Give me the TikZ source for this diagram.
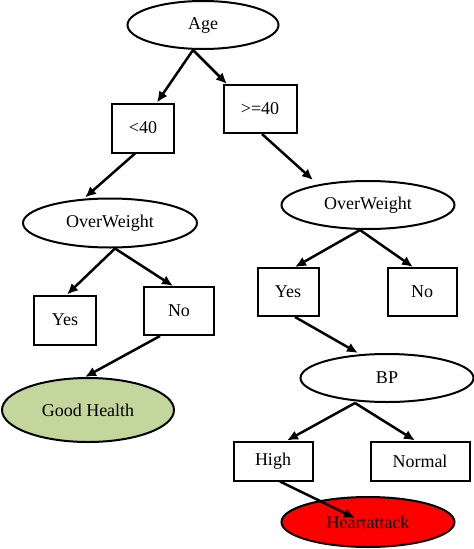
\documentclass[tikz,border=0pt]{standalone}
\usepackage{fontspec}
\setmainfont{Liberation Serif}
\usepackage{tikz}
\usetikzlibrary{arrows,arrows.meta,positioning,calc,shapes.geometric}
\definecolor{goodgreen}{RGB}{195,214,155}
\tikzstyle{attr}=[draw,ellipse,fill=white,line width=2pt,inner sep=0pt,font=\fontsize{18}{21}\selectfont]
\tikzstyle{val}=[draw,rectangle,fill=white,line width=2pt,inner sep=0pt,font=\fontsize{18}{21}\selectfont]
\tikzstyle{link}=[line width=2.5pt,-{Latex[length=11pt,width=10pt]}]
\begin{document}
\begin{tikzpicture}[x=1pt,y=-1pt]
\useasboundingbox (0,0) rectangle (474,549);
\node [attr,minimum width=151pt,minimum height=48pt] (age) at (203,25) {Age};
\node [val,minimum width=62pt,minimum height=49pt] (lt40) at (143,128) {<40};
\node [val,minimum width=73pt,minimum height=48pt] (ge40) at (260,109) {>=40};
\node [attr,minimum width=174pt,minimum height=49pt] (owL) at (110,223) {OverWeight};
\node [attr,minimum width=173pt,minimum height=48pt] (owR) at (368,205) {OverWeight};
\node [val,minimum width=62pt,minimum height=49pt] (yesL) at (65,320) {Yes};
\node [val,minimum width=70pt,minimum height=48pt] (noL) at (179,311) {No};
\node [val,minimum width=61pt,minimum height=48pt] (yesR) at (288,292) {Yes};
\node [val,minimum width=69pt,minimum height=48pt] (noR) at (422,292) {No};
\node [attr,fill=goodgreen,minimum width=172pt,minimum height=64pt] (good) at (88,410) {Good Health};
\node [attr,minimum width=173pt,minimum height=48pt] (bp) at (387,378) {BP};
\node [val,minimum width=79pt,minimum height=39pt] (high) at (273,461) {High};
\node [val,minimum width=99pt,minimum height=39pt] (normal) at (420,461) {Normal};
\node [attr,fill=red,minimum width=173pt,minimum height=50pt] (heart) at (368,522) {Heartattack};
% age split
\draw [link] ([xshift=-10pt]age.south) -- ([xshift=14pt]lt40.north);
\draw [link] ([xshift=-10pt]age.south) -- ([xshift=-33pt]ge40.north);
\draw [link] ([xshift=-8pt]lt40.south) -- ([xshift=-25pt]owL.north);
\draw [link] ([xshift=2pt]ge40.south) -- ([xshift=-55pt]owR.north);
% overweight
\draw [link] ([xshift=5pt]owL.south) -- ([xshift=2pt]yesL.north);
\draw [link] ([xshift=5pt]owL.south) -- ([xshift=-6pt]noL.north);
\draw [link] ([xshift=-8pt]owR.south) -- ([xshift=7pt]yesR.north);
\draw [link] ([xshift=-8pt]owR.south) -- ([xshift=-9pt]noR.north);
\draw [link] ([xshift=-19pt]noL.south) -- ([xshift=-3pt]good.north);
\draw [link] ([xshift=7pt]yesR.south) -- ([xshift=-29pt]bp.north);
% bp
\draw [link] ([xshift=-32pt]bp.south) -- ([xshift=14pt]high.north);
\draw [link] ([xshift=-32pt]bp.south) -- ([xshift=-5pt]normal.north);
\draw [link] ([xshift=7pt]high.south) -- ([xshift=-13pt,yshift=4pt]heart.center);
\end{tikzpicture}
\end{document}
